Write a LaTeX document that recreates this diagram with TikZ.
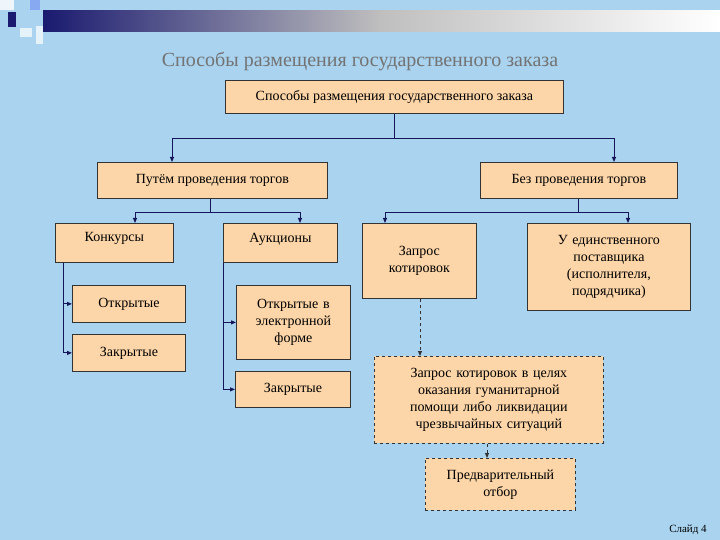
\documentclass[tikz,border=0pt]{standalone}
\usepackage{fontspec}
\setmainfont{Liberation Serif}
\usetikzlibrary{arrows.meta,calc}
\definecolor{slidebg}{HTML}{A9D3EF}
\definecolor{boxfill}{HTML}{FCD5A8}
\definecolor{navy}{HTML}{1A1A70}
\tikzset{%
  tipA/.tip={Triangle[length=5pt,width=4pt]},
  block/.style={draw=black!80, fill=boxfill, line width=0.8pt, align=center,
    inner sep=2pt, font=\fontsize{14}{17}\selectfont, anchor=north west},
  dblock/.style={block, dashed},
  link/.style={line width=0.9pt, draw=navy!80!black},
  dlink/.style={link, dashed, draw=black!80}
}
\begin{document}
\begin{tikzpicture}[x=1pt,y=-1pt]
\fill[slidebg] (0,0) rectangle (720,540);
\useasboundingbox (0,0) rectangle (720,540);
% header decoration
\shade[left color=navy, right color=white, middle color=black!25] (43,11) rectangle (720,32);
\fill[navy] (8,12) rectangle (16,27);
\fill[white!80!slidebg] (0,0) rectangle (14,10);
\fill[white!70!slidebg] (20,28) rectangle (32,37);
\fill[blue!20!slidebg] (30,0) rectangle (40,10);
\fill[white!70!slidebg] (36,26) rectangle (43,44);
\node[text=black!55, font=\fontsize{20}{22}\selectfont] (title) at (360,62) {Способы размещения государственного заказа};
% boxes
\node[block, minimum width=338, minimum height=33] (top) at (225,80) {Способы размещения государственного заказа};
\node[block, minimum width=230, minimum height=36] (torg) at (97,162) {Путём проведения торгов};
\node[block, minimum width=197, minimum height=36] (bez) at (480,162) {Без проведения торгов};
\node[block, minimum width=118, minimum height=39] (konk) at (55,223) {Конкурсы\\[-6pt]};
\node[block, minimum width=114, minimum height=39] (auk) at (223,223) {Аукционы\\[-6pt]};
\node[block, minimum width=113, minimum height=37] (kopen) at (72,285) {Открытые};
\node[block, minimum width=113, minimum height=37] (kclose) at (72,334) {Закрытые};
\node[block, minimum width=114, minimum height=74, text width=105] (aopen) at (236,285) {Открытые в\\электронной\\форме};
\node[block, minimum width=115, minimum height=36] (aclose) at (235,371) {Закрытые};
\node[block, minimum width=114, minimum height=75, text width=105] (zap) at (362,223) {Запрос\\котировок\\[24pt]};
\node[block, minimum width=163, minimum height=87, text width=155] (edin) at (527,223) {У единственного\\поставщика\\(исполнителя,\\подрядчика)};
\node[dblock, minimum width=229, minimum height=87, text width=220] (gum) at (374,356) {Запрос котировок в целях\\оказания гуманитарной\\помощи либо ликвидации\\чрезвычайных ситуаций};
\node[dblock, minimum width=150, minimum height=52, text width=142] (pre) at (425,458) {Предварительный\\отбор};
\node[font=\fontsize{11}{12}\selectfont] (slide) at (688,530) {Слайд 4};
% connectors
\coordinate (t1) at ($(top.south)+(0,25)$);
\draw[link] (top.south) -- (t1);
\draw[link,-tipA] (t1) -| ($(torg.north west)+(75,0)$);
\draw[link,-tipA] (t1) -| ($(bez.north west)+(134,0)$);
\coordinate (l1) at ($(torg.south)+(-2,14)$);
\draw[link] ($(torg.south)+(-2,0)$) -- (l1);
\draw[link,-tipA] (l1) -| ($(konk.north west)+(80,0)$);
\draw[link,-tipA] (l1) -| ($(auk.north west)+(77,0)$);
\coordinate (r1) at ($(bez.south)+(0,14)$);
\draw[link] (bez.south) -- (r1);
\draw[link,-tipA] (r1) -| ($(zap.north west)+(23,0)$);
\draw[link,-tipA] (r1) -| ($(edin.north west)+(101,0)$);
\coordinate (kl) at ($(konk.south west)+(8,0)$);
\draw[link,-tipA] (kl) |- (kopen.west);
\draw[link,-tipA] (kl) |- (kclose.west);
\coordinate (al) at (auk.south west);
\draw[link,-tipA] (al) |- (aopen.west);
\draw[link,-tipA] (al) |- (aclose.west);
\draw[dlink,-tipA] ($(zap.south west)+(58,0)$) -- ($(gum.north west)+(46,0)$);
\draw[dlink,-tipA] ($(gum.south west)+(113,0)$) -- ($(pre.north west)+(62,0)$);
\end{tikzpicture}
\end{document}
